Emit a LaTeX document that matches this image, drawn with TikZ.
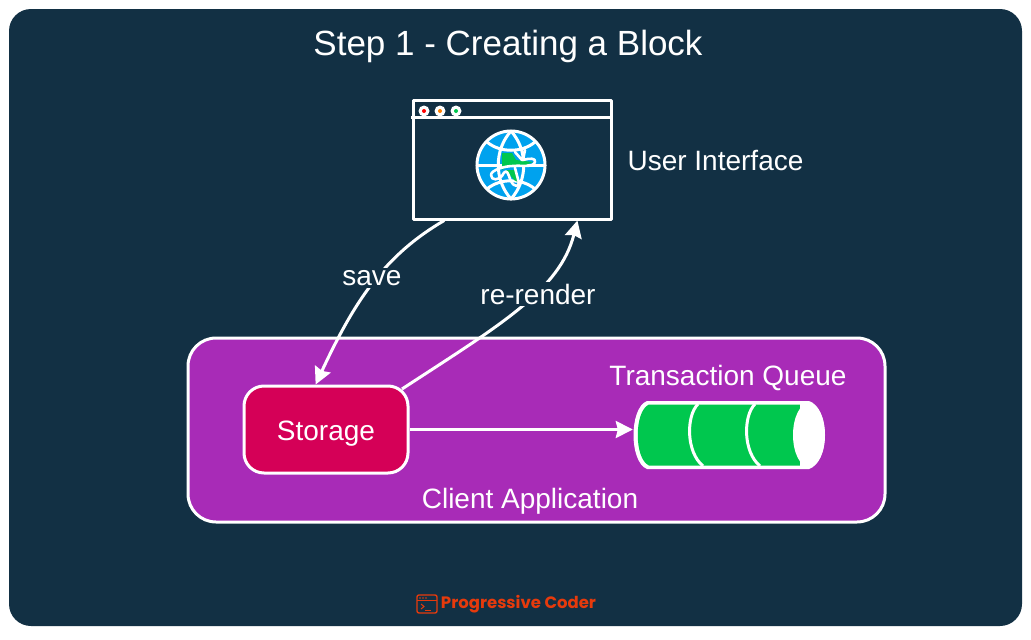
\documentclass[tikz,border=0pt]{standalone}
\usepackage{fontspec}
\setmainfont{Liberation Sans}
\newfontfamily\logofont{Poppins}[UprightFont=* Bold]
\usetikzlibrary{arrows.meta}
\definecolor{bgc}{HTML}{123044}
\definecolor{clientc}{HTML}{A82BB7}
\definecolor{storec}{HTML}{D50057}
\definecolor{greenc}{HTML}{00C74E}
\definecolor{globec}{HTML}{00A2EE}
\definecolor{logoc}{HTML}{E63A0C}
\tikzset{
  wline/.style={draw=white,line width=3pt},
  txt/.style={text=white,font=\fontsize{28}{32}\selectfont,inner sep=2pt},
  lbl/.style={txt,fill=bgc,inner sep=2pt},
  conn/.style={draw=white,line width=3pt,-{Stealth[length=17pt,width=17pt,inset=2pt]}},
  gl/.style={draw=white,line width=3pt,line cap=round,line join=round},
  logol/.style={draw=logoc,line width=1.4pt}
}
\begin{document}
\begin{tikzpicture}[x=1pt,y=-1pt]
\useasboundingbox (0,0) rectangle (1031,640);
\fill[white] (0,0) rectangle (1031,640);
\fill[bgc,rounded corners=22pt] (9,9) rectangle (1022,626);
\node[text=white,font=\fontsize{35}{40}\selectfont,inner sep=0pt] (title) at (508,46) {Step 1 - Creating a Block};
% client
\node[wline,fill=clientc,rounded corners=28pt,minimum width=697pt,minimum height=184pt,inner sep=0pt] (client) at (536.5,430) {};
\node[wline,fill=storec,rounded corners=20pt,minimum width=164pt,minimum height=87pt,inner sep=0pt] (storage) at (326,429.5) {};
\node[text=white,font=\fontsize{28}{32}\selectfont,inner sep=0pt] (storagel) at (326,434) {Storage};
% browser
\node[wline,minimum width=198pt,minimum height=119pt,inner sep=0pt,line join=round] (browser) at (512,159.5) {};
\draw[wline] (411,117) -- (611,117);
\foreach \x/\c in {424/red,440/orange,456/greenc}{
  \fill[white] (\x,111) circle (5.5pt);
  \fill[\c] (\x,111) circle (2pt);
}
% globe
\fill[globec] (511,165) circle (34pt);
\draw[gl] (511,165) circle (34pt);
\draw[gl] (477,165) -- (545,165);
\draw[gl] (511,131) .. controls (494,150) and (494,180) .. (511,199) .. controls (528,180) and (528,150) .. (511,131);
\draw[gl] (487,142) .. controls (500,153) and (522,153) .. (535,142);
\draw[gl] (487,189) .. controls (500,178) and (522,178) .. (535,189);
\fill[greenc] (502,153) -- (512,153) -- (516,160) -- (533,162) -- (523,166) -- (508,166) -- (502,170) -- cycle;
\fill[greenc] (506,170) -- (515,170) -- (518,182) -- (514,180) -- cycle;
\draw[gl,line width=2.6pt] (515,152) -- (522,160) -- (525,150) -- (523,160) .. controls (530,158) and (536,158) .. (535,162) .. controls (533,168) and (522,165) .. (513,166) .. controls (505,166) and (491,170) .. (491,175) .. controls (491,181) and (499,180) .. (502,176) .. controls (505,170) and (507,170) .. (509,176) .. controls (511,183) and (516,190) .. (519,183) -- (515,168);
% queue
\node[minimum width=192pt,minimum height=66pt,inner sep=0pt] (queue) at (729,435) {};
\fill[white] (647,401) .. controls (629,408) and (629,462) .. (647,469) -- (809,469) .. controls (830,462) and (830,408) .. (809,401) -- cycle;
\fill[greenc] (649,404.5) .. controls (634,411) and (634,459) .. (649,465.5) -- (805,465.5) -- (805,404.5) -- cycle;
\draw[wline,line join=round] (698,404) .. controls (686,416) and (686,452) .. (703,466);
\draw[wline,line join=round] (755,404) .. controls (743,416) and (743,452) .. (760,466);
\fill[white] (809,435) ellipse (16pt and 32pt);
\fill[white] (800,403) rectangle (812,467);
% connectors
\coordinate (rrstart) at (402,389);
\draw[conn] (browser.222) .. controls (385,255) and (355,300) .. (storage.103);
\draw[conn] (rrstart) .. controls (500,325) and (560,290) .. (browser.-43);
\draw[conn] (storage.east) -- (queue.west |- storage.east);
% labels
\node[lbl] (savel) at (372,278) {save};
\node[lbl] (rrl) at (538,294) {re-render};
\node[txt] (uil) at (715.5,161) {User Interface};
\node[txt] (tql) at (728,378) {Transaction Queue};
\node[txt] (cal) at (530,501) {Client Application};
% logo
\node[text=logoc,font=\logofont\fontsize{16.5}{18}\selectfont,inner sep=0pt] (logo) at (518.5,604) {Progressive Coder};
\draw[logol,rounded corners=2pt] (417,595) rectangle (437,613);
\draw[logol] (417,600.5) -- (437,600.5);
\foreach \x in {420,423,426}{\fill[logoc] (\x,598) circle (0.8pt);}
\draw[logol,line width=1pt] (421,604) -- (424,606.5) -- (421,609);
\draw[logol,line width=1pt] (425,610) -- (431,610);
\end{tikzpicture}
\end{document}
